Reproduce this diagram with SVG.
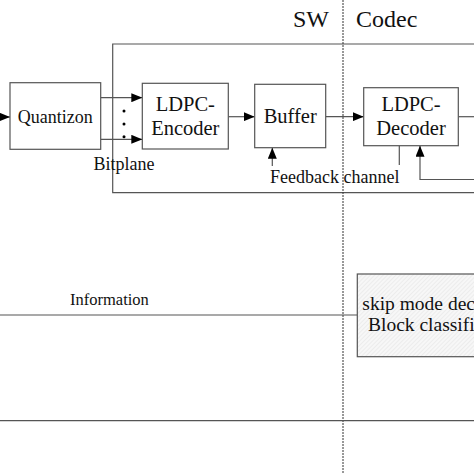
<svg xmlns="http://www.w3.org/2000/svg" width="474" height="474" viewBox="0 0 474 474">
<style>
.box{fill:#fff;stroke:#555;stroke-width:1.2}
.ln{fill:none;stroke:#555;stroke-width:1.2}
.t{font-family:"Liberation Serif","Times New Roman",serif;fill:#111}
.big{font-size:20.5px}
.sm{font-size:18px}
.sk{font-size:19.5px}
.lab{font-size:16.5px}
.hd{font-size:24px}
</style>
<defs>
<marker id="ah" viewBox="0 0 11 9" refX="11" refY="4.5" markerWidth="11" markerHeight="9" markerUnits="userSpaceOnUse" orient="auto">
<path d="M0,0 L11,4.5 L0,9 Z" fill="#000"/>
</marker>
<pattern id="hatch" width="3" height="3" patternUnits="userSpaceOnUse" patternTransform="rotate(45)">
<rect width="3" height="3" fill="#f7f7f7"/>
<line x1="0" y1="0" x2="0" y2="3" stroke="#dcdcdc" stroke-width="0.8"/>
</pattern>
</defs>
<rect width="474" height="474" fill="#fff"/>

<g id="frame">
<path class="ln" d="M474,44 H112.7 V192.7 H474"/>
<line x1="343" y1="0" x2="343" y2="474" stroke="#333" stroke-width="1" stroke-dasharray="2,1"/>
<text class="t hd" x="293" y="27">SW</text>
<text class="t hd" x="356" y="27">Codec</text>
</g>

<g id="connectors">
<line class="ln" x1="0" y1="117" x2="10" y2="117" marker-end="url(#ah)"/>
<line class="ln" x1="100.7" y1="97.7" x2="142.3" y2="97.7" marker-end="url(#ah)"/>
<line class="ln" x1="100.7" y1="139.3" x2="142.3" y2="139.3" marker-end="url(#ah)"/>
<line class="ln" x1="228.3" y1="116.7" x2="254.7" y2="116.7" marker-end="url(#ah)"/>
<line class="ln" x1="325.7" y1="116.7" x2="363.7" y2="116.7" marker-end="url(#ah)"/>
<line class="ln" x1="458.3" y1="116.7" x2="474" y2="116.7"/>
<line class="ln" x1="272.3" y1="166" x2="272.3" y2="147.7" marker-end="url(#ah)"/>
<line class="ln" x1="399.3" y1="145.7" x2="399.3" y2="165"/>
<path class="ln" d="M474,179.5 H420 V145.7" marker-end="url(#ah)"/>
<line class="ln" x1="0" y1="315" x2="357.3" y2="315"/>
<line class="ln" x1="0" y1="420.7" x2="474" y2="420.7"/>
<circle cx="124" cy="111" r="1.5" fill="#000"/>
<circle cx="124" cy="124" r="1.5" fill="#000"/>
<circle cx="124" cy="136.7" r="1.5" fill="#000"/>
<text class="t sm" x="124" y="170" text-anchor="middle">Bitplane</text>
<text class="t sm" x="270" y="183">Feedback channel</text>
<text class="t lab" x="70" y="305">Information</text>
</g>

<g id="quantizon">
<rect class="box" x="10" y="82.7" width="90.7" height="66.6"/>
<text class="t sm" x="55.3" y="122.5" text-anchor="middle">Quantizon</text>
</g>

<g id="ldpc-encoder">
<rect class="box" x="142.3" y="83.3" width="86" height="65.7"/>
<text class="t big" x="185.3" y="111" text-anchor="middle">LDPC-</text>
<text class="t big" x="185.3" y="135" text-anchor="middle">Encoder</text>
</g>

<g id="buffer">
<rect class="box" x="254.7" y="84.3" width="71" height="63.4"/>
<text class="t big" x="290.2" y="123" text-anchor="middle">Buffer</text>
</g>

<g id="ldpc-decoder">
<rect class="box" x="363.7" y="87.7" width="94.6" height="58"/>
<text class="t big" x="411" y="111" text-anchor="middle">LDPC-</text>
<text class="t big" x="411" y="135" text-anchor="middle">Decoder</text>
</g>

<g id="skip-mode">
<rect x="357.3" y="274" width="130" height="82.7" fill="url(#hatch)" stroke="#555" stroke-width="1.2"/>
<text class="t sk" x="362.3" y="309.5">skip mode decision</text>
<text class="t sk" x="368" y="331">Block classification</text>
</g>
</svg>
